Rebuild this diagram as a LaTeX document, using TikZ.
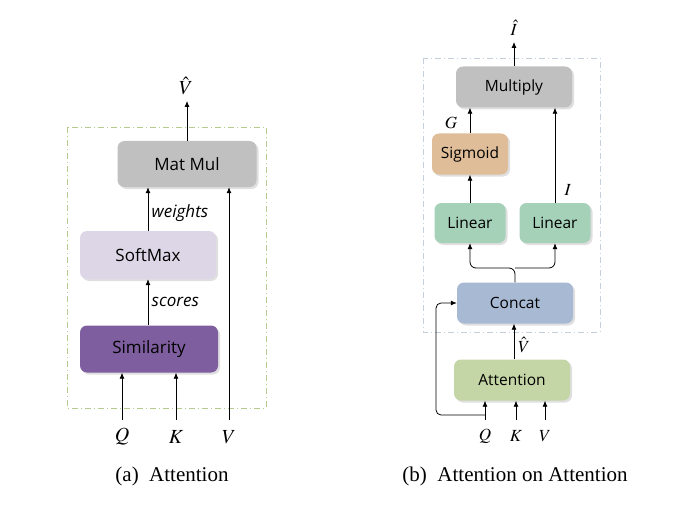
\documentclass[tikz,border=0pt]{standalone}
\usepackage{mathptmx}
\usepackage[no-math]{fontspec}
\setmainfont{Liberation Serif}
\newfontfamily\boxfont{Open Sans}
\usetikzlibrary{shadows,arrows.meta}
\definecolor{cgray}{HTML}{C0C0C0}
\definecolor{clav}{HTML}{DCD6E6}
\definecolor{cpurp}{HTML}{7E5E9E}
\definecolor{ctan}{HTML}{DEBD98}
\definecolor{cgreen}{HTML}{A6D1B9}
\definecolor{cblue}{HTML}{A8B9D4}
\definecolor{colive}{HTML}{C5D6A6}
\definecolor{dgreen}{HTML}{B5CC8E}
\definecolor{dblue}{HTML}{C5D0DE}
\begin{document}
\begin{tikzpicture}[x=1pt,y=-1pt,
  blk/.style={draw=none,rounded corners=7pt,font=\boxfont\fontsize{17}{19}\selectfont,
    drop shadow={opacity=0.25,shadow xshift=2pt,shadow yshift=-2pt}},
  sblk/.style={blk,font=\boxfont\fontsize{15.5}{18}\selectfont},
  arr/.style={-{Latex[length=6pt,width=5pt]},line width=0.8pt},
  lab/.style={font=\fontsize{20}{22}\selectfont},
  slab/.style={font=\fontsize{17}{19}\selectfont},
  frame/.style={dash pattern=on 6pt off 3pt on 1pt off 3pt,line width=0.8pt}]
\useasboundingbox (0,0) rectangle (685,508);
% (a)
\draw[frame,draw=dgreen] (67,127) rectangle (266,408);
\node[blk,fill=cgray,minimum width=139pt,minimum height=46pt] (mm) at (187,164) {Mat Mul};
\node[blk,fill=clav,minimum width=136pt,minimum height=48pt] (sm) at (148,255) {SoftMax};
\node[blk,fill=cpurp,minimum width=138pt,minimum height=47pt] (sim) at (149,349) {Similarity};
\node[lab] (vh) at (186,86) {$\hat{V}$};
\node[lab] (qa) at (122,437) {$Q$};
\node[lab] (ka) at (176,437) {$K$};
\node[lab] (va) at (229,437) {$V$};
\coordinate (qa0) at (122,420);
\coordinate (ka0) at (176,420);
\coordinate (va0) at (229,420);
\draw[arr] (qa0) -- (qa0 |- sim.south);
\draw[arr] (ka0) -- (ka0 |- sim.south);
\draw[arr] (va0) -- (va0 |- mm.south);
\draw[arr] (sim.north -| 148,0) -- (sm.south -| 148,0) node[pos=0.5,right=0pt,font=\boxfont\itshape\fontsize{17}{19}\selectfont]{scores};
\draw[arr] (sm.north -| 148,0) -- (mm.south -| 148,0) node[pos=0.4,right=0pt,font=\boxfont\itshape\fontsize{17}{19}\selectfont]{weights};
\draw[arr] (mm.north) -- (187,101);
\node (capa) at (172,476) {\fontsize{21}{24}\selectfont (a)\ \ Attention};
% (b)
\draw[frame,draw=dblue] (423,58) rectangle (600,332);
\node[sblk,fill=cgray,minimum width=116pt,minimum height=41pt] (mul) at (514,87) {Multiply};
\node[sblk,fill=ctan,minimum width=76pt,minimum height=41pt] (sig) at (470,154) {Sigmoid};
\node[sblk,fill=cgreen,minimum width=71pt,minimum height=40pt] (l1) at (470,223) {Linear};
\node[sblk,fill=cgreen,minimum width=71pt,minimum height=40pt] (l2) at (555,223) {Linear};
\node[sblk,fill=cblue,minimum width=116pt,minimum height=41pt] (cat) at (515,303) {Concat};
\node[sblk,fill=colive,minimum width=116pt,minimum height=41pt] (att) at (512,380) {Attention};
\node[slab] (ih) at (514,28) {$\hat{I}$};
\node[slab] (g) at (451,123) {$G$};
\node[slab] (il) at (568,190) {$I$};
\node[slab] (vb) at (524,345) {$\hat{V}$};
\node[slab] (qb) at (485,436) {$Q$};
\node[slab] (kb) at (516,436) {$K$};
\node[slab] (vbb) at (545,436) {$V$};
\coordinate (qb0) at (485,420);
\coordinate (kb0) at (516,420);
\coordinate (vb0) at (545,420);
\draw[arr] (qb0) -- (qb0 |- att.south);
\draw[arr] (kb0) -- (kb0 |- att.south);
\draw[arr] (vb0) -- (vb0 |- att.south);
\draw[arr,rounded corners=5pt] (485,415) -- (436,415) -- (436,303) -- (cat.west);
\draw[arr] (att.north -| 514,0) -- (cat.south -| 514,0);
\draw[arr,rounded corners=6pt] (cat.north) -- (515,268) -- (470,268) -- (l1.south);
\draw[arr,rounded corners=6pt] (515,268) -- (555,268) -- (l2.south);
\draw[arr] (l1.north) -- (sig.south);
\draw[arr] (sig.north) -- (sig.north |- mul.south);
\draw[arr] (l2.north) -- (l2.north |- mul.south);
\draw[arr] (mul.north) -- (514,42);
\node (capb) at (515,476) {\fontsize{21}{24}\selectfont (b)\ \ Attention on Attention};
\end{tikzpicture}
\end{document}
